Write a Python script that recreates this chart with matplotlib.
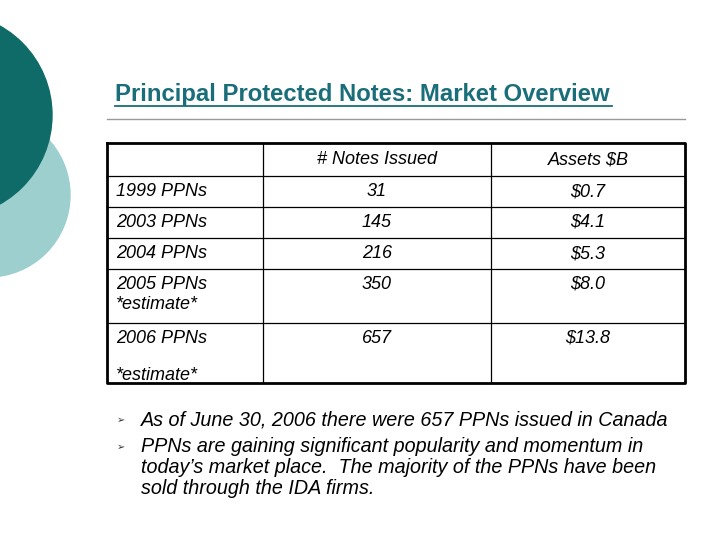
import matplotlib.pyplot as plt
from matplotlib.patches import Circle

title = "Principal Protected Notes: Market Overview"
headers = ["", "# Notes Issued", "Assets $B"]
row_labels = ["1999 PPNs", "2003 PPNs", "2004 PPNs", "2005 PPNs\n*estimate*", "2006 PPNs\n\n*estimate*"]
notes_issued = ["31", "145", "216", "350", "657"]
assets = ["$0.7", "$4.1", "$5.3", "$8.0", "$13.8"]
bullets = ["As of June 30, 2006 there were 657 PPNs issued in Canada",
           "PPNs are gaining significant popularity and momentum in\ntoday\u2019s market place.  The majority of the PPNs have been\nsold through the IDA firms."]

fig = plt.figure(figsize=(7.2, 5.4), dpi=100)
ax = fig.add_axes([0, 0, 1, 1])
ax.set_xlim(0, 720)
ax.set_ylim(540, 0)
ax.axis('off')

# decorative circles
ax.add_patch(Circle((-12, 195), 82, color='#9ecfcf', zorder=1))
ax.add_patch(Circle((-50, 115), 102, color='#0e6b68', zorder=2))

ax.text(115, 94, title, fontsize=17.2, fontweight='bold', color='#1a6e7a',
        family='Liberation Sans', va='center', ha='left')
ax.plot([115, 612], [106, 106], color='#1a6e7a', lw=1.3)
ax.plot([107, 685], [119, 119], color='#999999', lw=1)

# table
col_x = [107, 263, 491, 685]
row_y = [143, 176, 207, 238, 269, 323, 383]
for y in row_y[1:-1]:
    ax.plot([col_x[0], col_x[-1]], [y, y], color='black', lw=0.9)
for x in col_x[1:-1]:
    ax.plot([x, x], [row_y[0], row_y[-1]], color='black', lw=0.9)
ax.plot([col_x[0], col_x[-1], col_x[-1], col_x[0], col_x[0]],
        [row_y[0], row_y[0], row_y[-1], row_y[-1], row_y[0]], color='black', lw=2)

font = dict(fontsize=13, style='italic', family='Liberation Sans', color='black')
for j, h in enumerate(headers):
    ax.text((col_x[j] + col_x[j + 1]) / 2, (row_y[0] + row_y[1]) / 2, h, ha='center', va='center', **font)
for i, (lab, n, a) in enumerate(zip(row_labels, notes_issued, assets)):
    top = row_y[i + 1]
    ls = 1.1 if i == 4 else 1.25
    ax.text(116, top + 7, lab, ha='left', va='top', linespacing=ls, **font)
    ax.text((col_x[1] + col_x[2]) / 2, top + 7, n, ha='center', va='top', **font)
    ax.text((col_x[2] + col_x[3]) / 2, top + 7, a, ha='center', va='top', **font)

# bullets
by = [410, 437]
for y, b in zip(by, bullets):
    ax.text(117, y + 10, "\u27a2", fontsize=7, family='DejaVu Sans', color='#333333', ha='left', va='center')
    ax.text(141, y, b, ha='left', va='top', fontsize=14.2, style='italic',
            family='Liberation Sans', linespacing=1.12)

fig.savefig('out.png', dpi=100)
